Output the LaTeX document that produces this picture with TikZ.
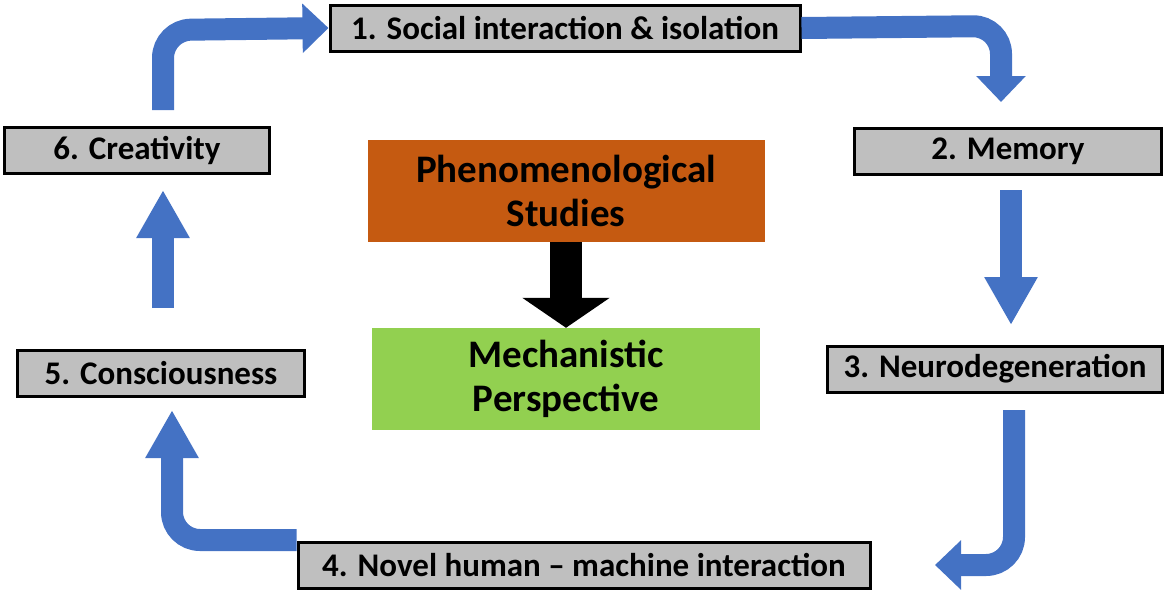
\documentclass[tikz,border=0pt]{standalone}
\usepackage{fontspec}
\setmainfont{Carlito}
\usetikzlibrary{arrows.meta}
\definecolor{bl}{HTML}{4472C4}
\definecolor{og}{HTML}{C55A11}
\definecolor{gr}{HTML}{92D050}
\begin{document}
\begin{tikzpicture}[x=1pt,y=-1pt,
 box/.style={draw=black,line width=3pt,fill=black!25,font=\bfseries\fontsize{33}{36}\selectfont,inner sep=0pt,minimum height=46pt},
 big/.style={font=\bfseries\fontsize{39}{44}\selectfont,align=center,inner sep=0pt,minimum height=102pt},
 flow/.style={line width=22pt,bl,rounded corners=28pt,-{Triangle[width=48pt,length=26pt]}},
 flowl/.style={line width=22pt,bl,rounded corners=28pt,-{Triangle[width=50pt,length=48pt]}}]
\useasboundingbox (0,0) rectangle (1170,595);
\node[box,minimum width=470pt] (n1) at (565,28) {1. Social interaction \& isolation};
\node[box,minimum width=307pt] (n2) at (1008,151) {2. Memory};
\node[box,minimum width=335pt] (n3) at (995,369) {3. Neurodegeneration};
\node[box,minimum width=572pt] (n4) at (584,565) {4. Novel human -- machine interaction};
\node[box,minimum width=287pt] (n5) at (161,373) {5. Consciousness};
\node[box,minimum width=265pt] (n6) at (137,150) {6. Creativity};
\node[big,fill=og,minimum width=397pt] (ph) at (566,191) {Phenomenological\\Studies};
\node[big,fill=gr,minimum width=388pt] (me) at (566,379) {Mechanistic\\Perspective};
\draw[line width=32pt,-{Triangle[width=86pt,length=30pt]}] (ph.south) -- (me.north);
\coordinate (a1) at (163,110); \coordinate (b1) at (163,30);
\draw[flow] (a1) -- (b1) -- (n1.west);
\coordinate (a2) at (1001,26);
\draw[flow] (n1.east) -- (a2) -- (1001,102);
\draw[flowl] (1011,190) -- (1011,325);
\coordinate (a3) at (1014,565);
\draw[flow] (1014,410) -- (a3) -- (935,565);
\coordinate (a4) at (172,540);
\draw[flowl] (n4.west |- 0,540) -- (a4) -- (172,410);
\draw[flowl] (163,308) -- (163,190);
\end{tikzpicture}
\end{document}
